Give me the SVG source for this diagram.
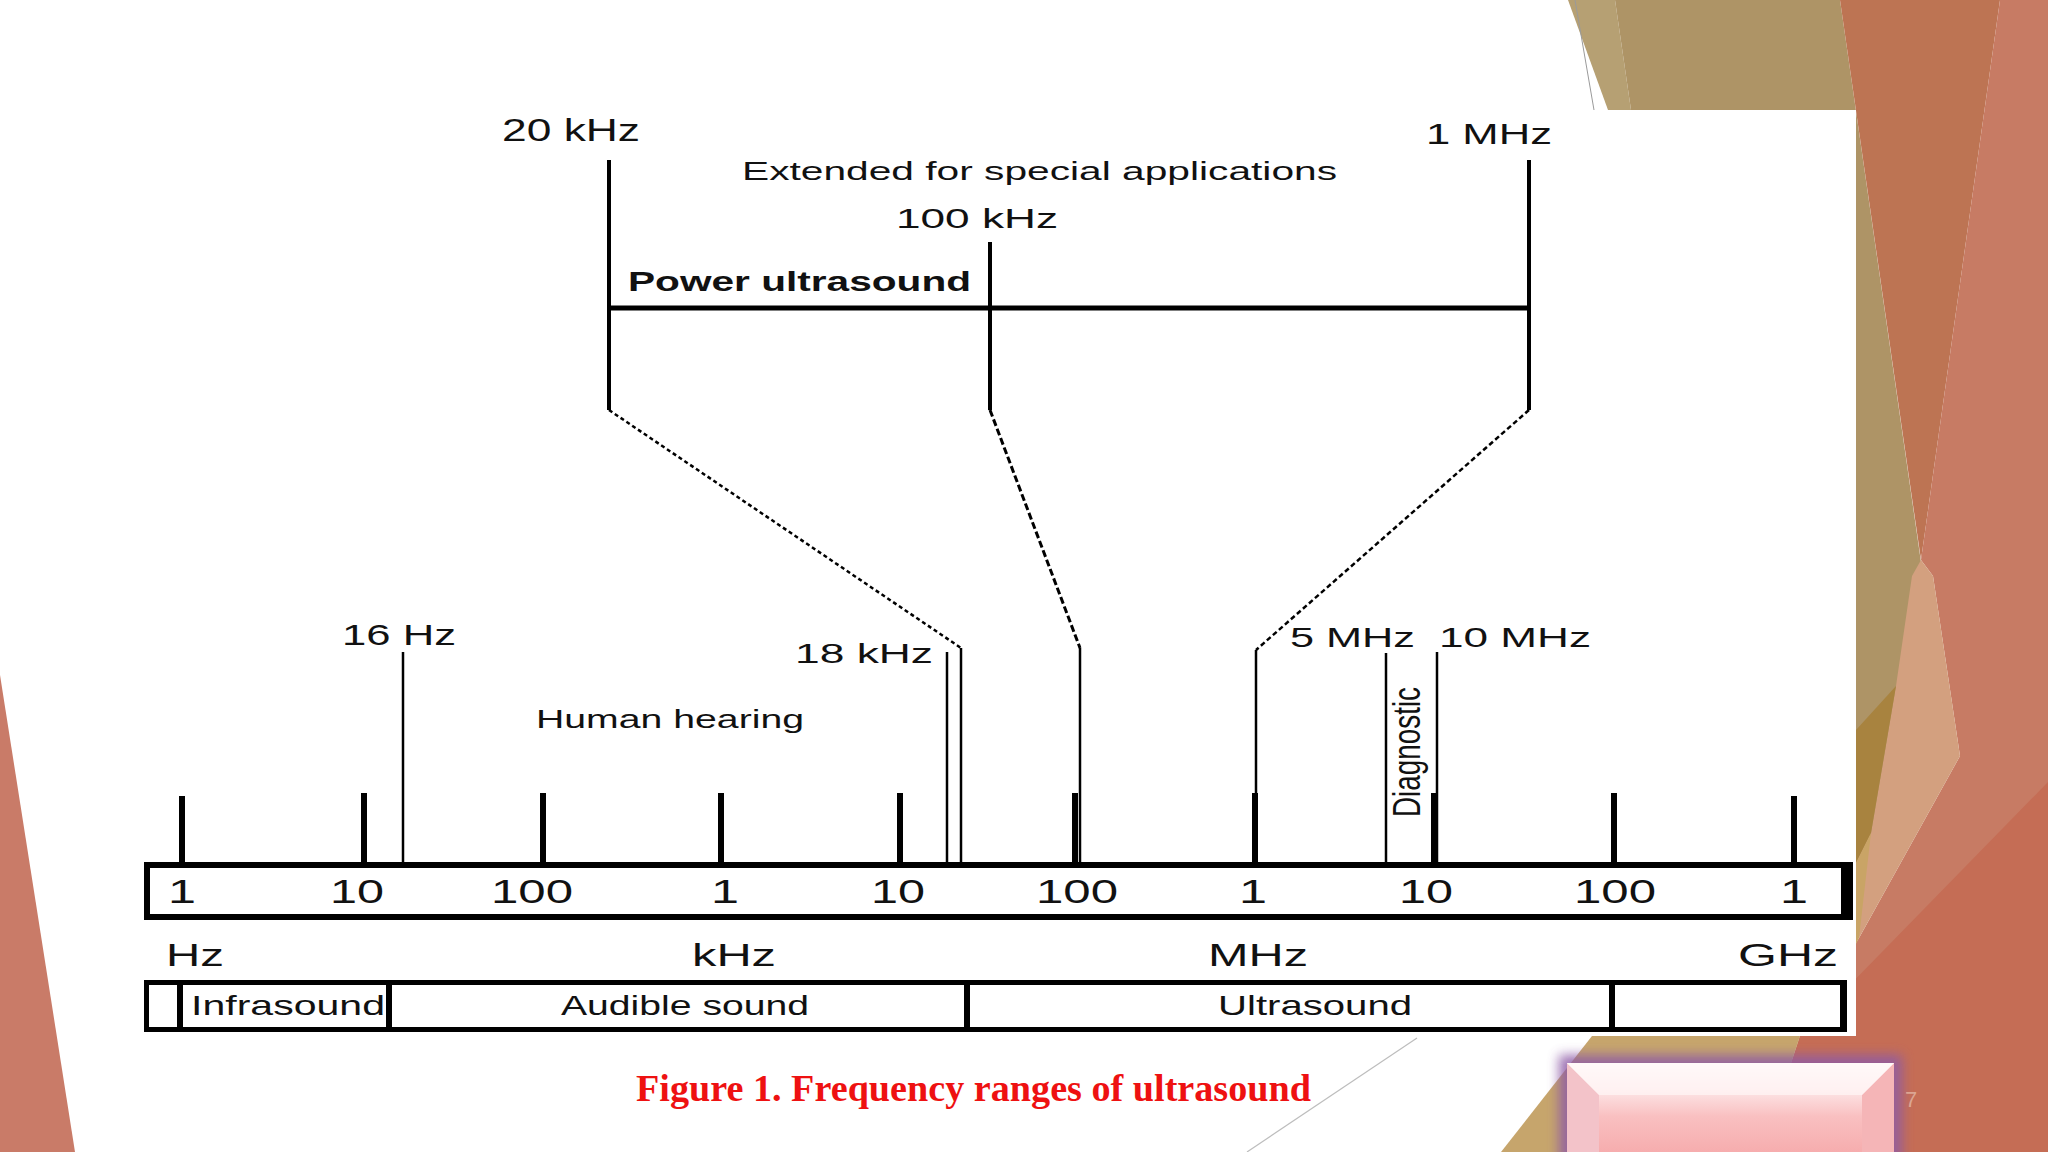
<svg xmlns="http://www.w3.org/2000/svg" width="2048" height="1152" viewBox="0 0 2048 1152">
<defs>
<style>
.t{font-family:"Liberation Sans",Arial,Helvetica,sans-serif;fill:#111;}
.b{font-weight:bold;}
.thin{stroke:#000;stroke-width:2.5;fill:none;}
.thick{stroke:#000;stroke-width:4;fill:none;}
.tick{stroke:#000;stroke-width:6;fill:none;}
.box{stroke:#000;fill:#fff;}
.dash{stroke:#000;fill:none;}
</style>
<linearGradient id="btn" x1="0" y1="0" x2="0" y2="1">
<stop offset="0" stop-color="#ffffff"/>
<stop offset="0.3" stop-color="#fde6e7"/>
<stop offset="0.6" stop-color="#f9c0c1"/>
<stop offset="1" stop-color="#f6adae"/>
</linearGradient>
<filter id="glow" x="-20%" y="-40%" width="140%" height="180%">
<feGaussianBlur stdDeviation="6"/>
</filter>
</defs>

<g id="background">
<rect x="0" y="0" width="2048" height="1152" fill="#ffffff"/>
<polygon points="0,675 75,1152 0,1152" fill="#c97b68"/>
<polygon points="1568,0 1615,0 1631,110 1608,110" fill="#b6a073"/>
<line x1="1575" y1="0" x2="1594" y2="110" stroke="#9a9a9a" stroke-width="1"/>
<polygon points="1615,0 1840,0 1923,576 1856,944 1856,110 1631,110" fill="#ae9466"/>
<polygon points="1840,0 2000,0 1921,560" fill="#bd7453"/>
<polygon points="2000,0 2048,0 2048,1152 1762,1152 1800,1036 1859,938 1960,756 1933,576 1921,560" fill="#c77b64"/>
<polygon points="2048,782 1800,1036 1762,1152 2048,1152" fill="#c56d55"/>
<polygon points="1921,560 1933,576 1960,756 1859,938 1856,863 1871,833 1896,686 1912,576" fill="#d3a07f"/>
<polygon points="1856,730 1896,686 1871,833 1856,863" fill="#a8833f"/>
<polygon points="1856,863 1871,833 1859,938 1856,944" fill="#c9a466"/>
<polygon points="1501,1152 1592,1036 1800,1036 1762,1152" fill="#c6a56c"/>
<line x1="1417" y1="1038" x2="1247" y2="1152" stroke="#bdbdbd" stroke-width="1.2"/>
</g>

<g id="panel">
<rect x="120" y="110" width="1736" height="926" fill="#ffffff"/>
</g>

<g id="button">
<rect x="1559" y="1055" width="343" height="110" fill="#8d5aa6" opacity="0.85" filter="url(#glow)"/>
<rect x="1567" y="1063" width="327" height="89" fill="url(#btn)"/>
<polygon points="1567,1063 1599,1095 1599,1152 1567,1152" fill="#f3c3c9"/>
<polygon points="1894,1063 1862,1095 1862,1152 1894,1152" fill="#f5b5b7"/>
<polygon points="1567,1063 1894,1063 1862,1095 1599,1095" fill="#fff6f6" opacity="0.7"/>
<text x="1905" y="1107" font-family="Liberation Sans,Arial,sans-serif" font-size="22" fill="#dba593">7</text>
</g>

<g id="axis">
<rect class="box" x="147" y="865" width="1697" height="52" stroke-width="6"/>
<rect x="1841" y="862" width="12" height="58" fill="#000"/>
<g id="ticks">
<line class="tick" x1="182" y1="796" x2="182" y2="864"/>
<line class="tick" x1="364" y1="793" x2="364" y2="864"/>
<line class="tick" x1="543" y1="793" x2="543" y2="864"/>
<line class="tick" x1="721" y1="793" x2="721" y2="864"/>
<line class="tick" x1="900" y1="793" x2="900" y2="864"/>
<line class="tick" x1="1075" y1="793" x2="1075" y2="864"/>
<line class="tick" x1="1255" y1="793" x2="1255" y2="864"/>
<line class="tick" x1="1434" y1="793" x2="1434" y2="864"/>
<line class="tick" x1="1614" y1="793" x2="1614" y2="864"/>
<line class="tick" x1="1794" y1="796" x2="1794" y2="864"/>
</g>
<g id="tick-labels" font-size="33">
<text class="t" x="168" y="903" textLength="28" lengthAdjust="spacingAndGlyphs">1</text>
<text class="t" x="330" y="903" textLength="54" lengthAdjust="spacingAndGlyphs">10</text>
<text class="t" x="491" y="903" textLength="82" lengthAdjust="spacingAndGlyphs">100</text>
<text class="t" x="711" y="903" textLength="28" lengthAdjust="spacingAndGlyphs">1</text>
<text class="t" x="871" y="903" textLength="54" lengthAdjust="spacingAndGlyphs">10</text>
<text class="t" x="1036" y="903" textLength="82" lengthAdjust="spacingAndGlyphs">100</text>
<text class="t" x="1239" y="903" textLength="28" lengthAdjust="spacingAndGlyphs">1</text>
<text class="t" x="1399" y="903" textLength="54" lengthAdjust="spacingAndGlyphs">10</text>
<text class="t" x="1574" y="903" textLength="82" lengthAdjust="spacingAndGlyphs">100</text>
<text class="t" x="1780" y="903" textLength="28" lengthAdjust="spacingAndGlyphs">1</text>
</g>
</g>

<g id="units" font-size="31">
<text class="t" x="166" y="966" textLength="58" lengthAdjust="spacingAndGlyphs">Hz</text>
<text class="t" x="692" y="966" textLength="84" lengthAdjust="spacingAndGlyphs">kHz</text>
<text class="t" x="1208" y="966" textLength="100" lengthAdjust="spacingAndGlyphs">MHz</text>
<text class="t" x="1738" y="966" textLength="100" lengthAdjust="spacingAndGlyphs">GHz</text>
</g>

<g id="bands">
<rect class="box" x="146.5" y="982.5" width="1698" height="47" stroke-width="5"/>
<rect x="1840" y="980" width="7" height="52" fill="#000"/>
<line class="tick" x1="180" y1="982" x2="180" y2="1030" stroke-width="6"/>
<line class="tick" x1="389" y1="982" x2="389" y2="1030" stroke-width="5"/>
<line class="tick" x1="967" y1="982" x2="967" y2="1030" stroke-width="5"/>
<line class="tick" x1="1612" y1="982" x2="1612" y2="1030" stroke-width="5"/>
<g id="band-infrasound"><text class="t" x="191" y="1015" font-size="28" textLength="194" lengthAdjust="spacingAndGlyphs">Infrasound</text></g>
<g id="band-audible"><text class="t" x="561" y="1015" font-size="28" textLength="248" lengthAdjust="spacingAndGlyphs">Audible sound</text></g>
<g id="band-ultrasound"><text class="t" x="1218" y="1015" font-size="28" textLength="194" lengthAdjust="spacingAndGlyphs">Ultrasound</text></g>
</g>

<g id="power-ultrasound">
<line class="thick" x1="609" y1="160" x2="609" y2="410"/>
<line class="thick" x1="990" y1="242" x2="990" y2="410"/>
<line class="thick" x1="1529" y1="160" x2="1529" y2="410"/>
<line x1="607" y1="308" x2="1531" y2="308" stroke="#000" stroke-width="5"/>
<g id="label-20kHz"><text class="t" x="502" y="141" font-size="31" textLength="138" lengthAdjust="spacingAndGlyphs">20 kHz</text></g>
<g id="label-1MHz-top"><text class="t" x="1426" y="144" font-size="30" textLength="126" lengthAdjust="spacingAndGlyphs">1 MHz</text></g>
<g id="label-extended"><text class="t" x="742" y="180" font-size="26" textLength="595" lengthAdjust="spacingAndGlyphs">Extended for special applications</text></g>
<g id="label-100kHz-top"><text class="t" x="896" y="228" font-size="28" textLength="162" lengthAdjust="spacingAndGlyphs">100 kHz</text></g>
<g id="label-power"><text class="t b" x="628" y="291" font-size="28" textLength="343" lengthAdjust="spacingAndGlyphs">Power ultrasound</text></g>
</g>

<g id="markers">
<g id="marker-16Hz">
<line class="thin" x1="403" y1="652" x2="403" y2="864"/>
<text class="t" x="342" y="645" font-size="30" textLength="114" lengthAdjust="spacingAndGlyphs">16 Hz</text>
</g>
<g id="marker-18kHz">
<line class="thin" x1="947" y1="652" x2="947" y2="864"/>
<line class="thin" x1="961" y1="648" x2="961" y2="864"/>
<text class="t" x="795" y="663" font-size="28" textLength="138" lengthAdjust="spacingAndGlyphs">18 kHz</text>
</g>
<g id="label-human-hearing">
<text class="t" x="536" y="728" font-size="25" textLength="268" lengthAdjust="spacingAndGlyphs">Human hearing</text>
</g>
<g id="marker-100kHz">
<line class="thin" x1="1080" y1="648" x2="1080" y2="864"/>
</g>
<g id="marker-1MHz">
<line class="thin" x1="1256" y1="650" x2="1256" y2="864"/>
</g>
<g id="marker-5MHz">
<line class="thin" x1="1386" y1="653" x2="1386" y2="864"/>
<text class="t" x="1290" y="647" font-size="27" textLength="125" lengthAdjust="spacingAndGlyphs">5 MHz</text>
</g>
<g id="marker-10MHz">
<line class="thin" x1="1437" y1="652" x2="1437" y2="864"/>
<text class="t" x="1439" y="647" font-size="27" textLength="152" lengthAdjust="spacingAndGlyphs">10 MHz</text>
</g>
<g id="label-diagnostic">
<text class="t" transform="translate(1420,817) scale(1.4,1) rotate(-90)" x="0" y="0" font-size="28" textLength="130" lengthAdjust="spacingAndGlyphs">Diagnostic</text>
</g>
</g>

<g id="connectors">
<line class="dash" x1="609" y1="410" x2="961" y2="648" stroke-width="2.5" stroke-dasharray="4 3"/>
<line class="dash" x1="990" y1="410" x2="1080" y2="648" stroke-width="3" stroke-dasharray="7 3"/>
<line class="dash" x1="1529" y1="410" x2="1256" y2="650" stroke-width="2.5" stroke-dasharray="5 3"/>
</g>

<g id="caption">
<text x="636" y="1101" font-family="Liberation Serif,'Times New Roman',serif" font-weight="bold" font-size="38" fill="#ee1111" textLength="675" lengthAdjust="spacingAndGlyphs">Figure 1. Frequency ranges of ultrasound</text>
</g>
</svg>
